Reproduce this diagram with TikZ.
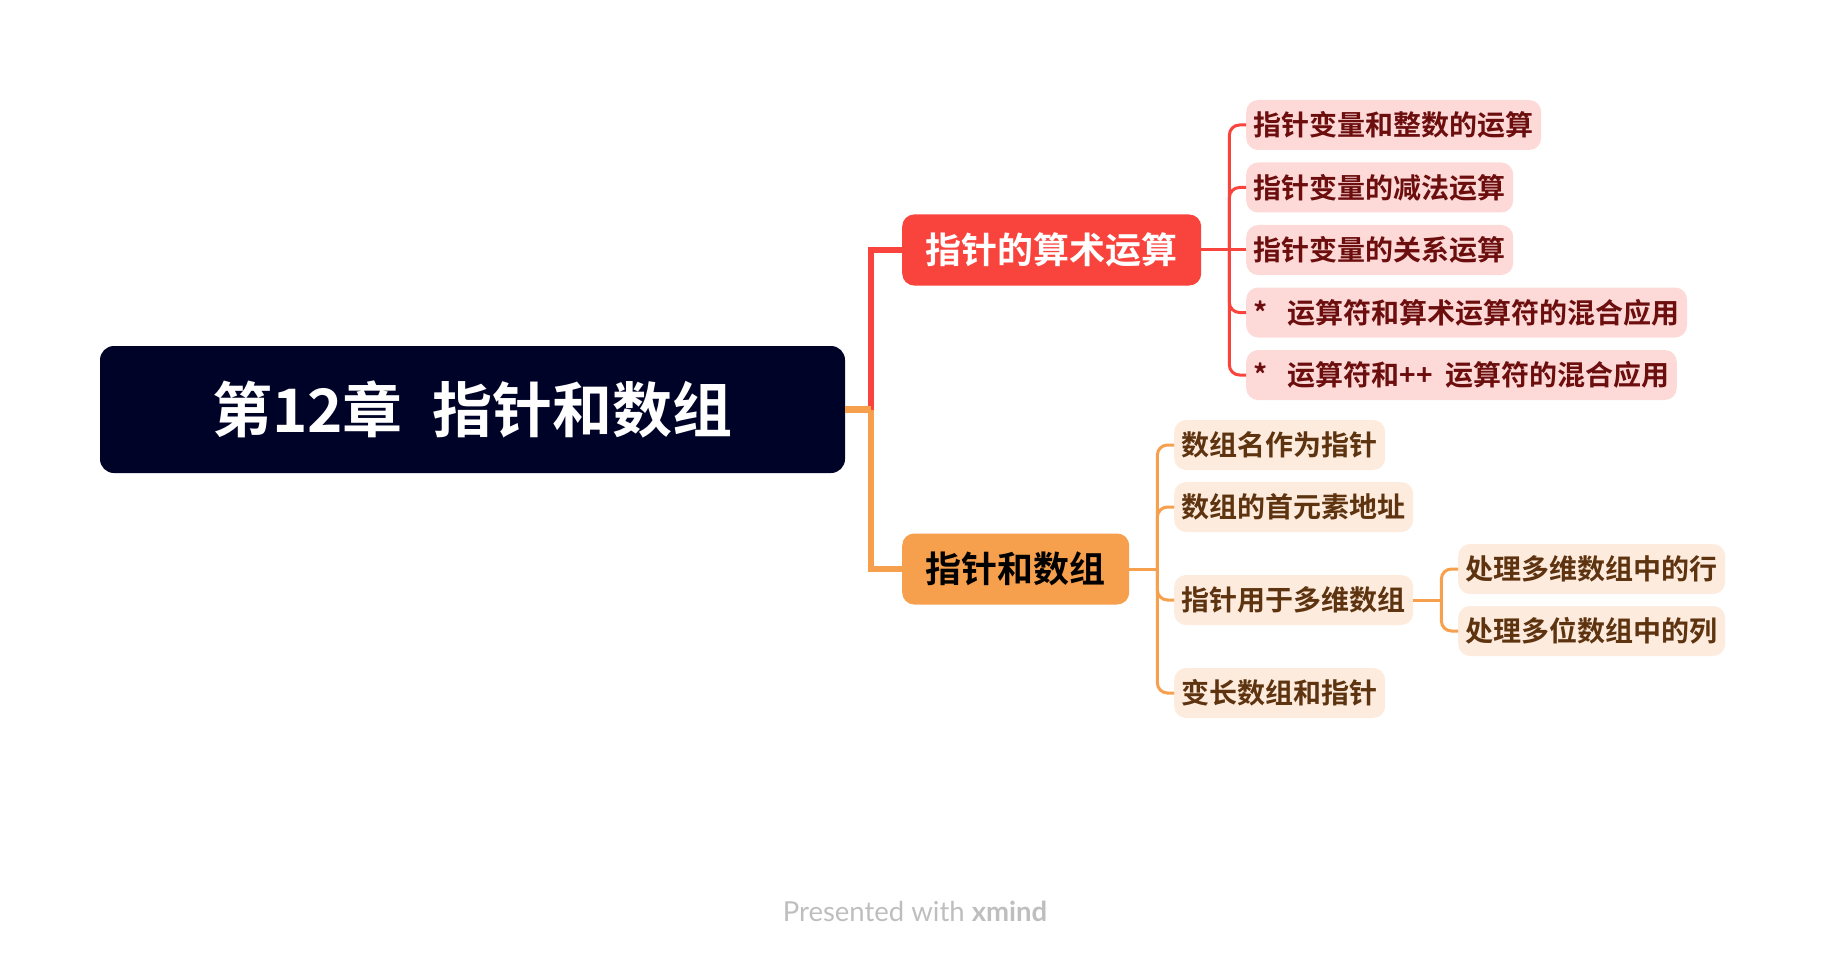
\documentclass[tikz,border=0pt]{standalone}
\usepackage{fontspec}
\newfontfamily\cjk{Noto Sans CJK SC}[BoldFont={Noto Sans CJK SC Bold}]
\newfontfamily\footfont{Lato}
\usetikzlibrary{positioning}
\definecolor{rootbg}{RGB}{0,3,40}
\definecolor{redmain}{RGB}{249,68,62}
\definecolor{orangemain}{RGB}{246,160,77}
\definecolor{redlight}{RGB}{253,218,216}
\definecolor{redtext}{RGB}{108,14,14}
\definecolor{orangelight}{RGB}{253,235,221}
\definecolor{orangetext}{RGB}{94,52,16}
\definecolor{footgray}{RGB}{190,190,190}

\begin{document}
\begin{tikzpicture}[x=1pt, y=-1pt,
    rootbox/.style={fill=rootbg, text=white, rounded corners=14pt, minimum width=745pt, minimum height=127pt, font={\cjk\bfseries\fontsize{60}{64}\selectfont}},
    topic/.style={rounded corners=12pt, inner xsep=23.5pt, minimum height=71pt, anchor=west, font={\cjk\bfseries\fontsize{36}{40}\selectfont}},
    topicred/.style={topic, fill=redmain, text=white},
    topicorange/.style={topic, fill=orangemain, text=black},
    sub/.style={rounded corners=12pt, inner xsep=7.5pt, minimum height=50pt, anchor=west, font={\cjk\bfseries\fontsize{28}{32}\selectfont}},
    subred/.style={sub, fill=redlight, text=redtext},
    suborange/.style={sub, fill=orangelight, text=orangetext},
    linered/.style={draw=redmain, line width=3pt, rounded corners=10pt},
    lineorange/.style={draw=orangemain, line width=3pt, rounded corners=10pt}]
    \useasboundingbox (0,0) rectangle (1826,960);

    \node[rootbox] (root) at (472.5,409.5) {第12章\hspace{0.5em}指针和数组};
    \node[topicred] (arith) at (902,250) {指针的算术运算};
    \node[topicorange] (array) at (902,569) {指针和数组};

    \node[subred] (r1) at (1246,125) {指针变量和整数的运算};
    \node[subred] (r2) at (1246,187.5) {指针变量的减法运算};
    \node[subred] (r3) at (1246,250) {指针变量的关系运算};
    \node[subred] (r4) at (1246,312.5) {*\hspace{0.7em}运算符和算术运算符的混合应用};
    \node[subred] (r5) at (1246,375) {*\hspace{0.7em}运算符和++\ \ 运算符的混合应用};

    \node[suborange] (o1) at (1174,445) {数组名作为指针};
    \node[suborange] (o2) at (1174,507) {数组的首元素地址};
    \node[suborange] (o3) at (1174,600) {指针用于多维数组};
    \node[suborange] (o4) at (1174,693) {变长数组和指针};
    \node[suborange] (g1) at (1458,569) {处理多维数组中的行};
    \node[suborange] (g2) at (1458,631) {处理多位数组中的列};

    \coordinate (mj) at ([xshift=26pt]root.east);
    \draw[redmain, line width=6pt] (mj) |- (arith.west);
    \draw[orangemain, line width=6pt] (mj) |- (array.west);
    \draw[orangemain, line width=7pt] (root.east) -- (mj);

    \coordinate (rj) at ([xshift=28pt]arith.east);
    \draw[linered] (arith.east) -- (rj);
    \foreach \n in {r1,r2,r4,r5}
        \draw[linered] (rj) |- (\n.west);
    \draw[linered] (rj) -- (r3.west);

    \coordinate (oj) at ([xshift=28pt]array.east);
    \draw[lineorange] (array.east) -- (oj);
    \foreach \n in {o1,o2,o3,o4}
        \draw[lineorange] (oj) |- (\n.west);

    \coordinate (gj) at ([xshift=28pt]o3.east);
    \draw[lineorange] (o3.east) -- (gj);
    \foreach \n in {g1,g2}
        \draw[lineorange] (gj) |- (\n.west);

    \node[font={\footfont\fontsize{27.5}{31}\selectfont}, text=footgray] (foot) at (915,911) {Presented with \textbf{xmind}};
\end{tikzpicture}
\end{document}
